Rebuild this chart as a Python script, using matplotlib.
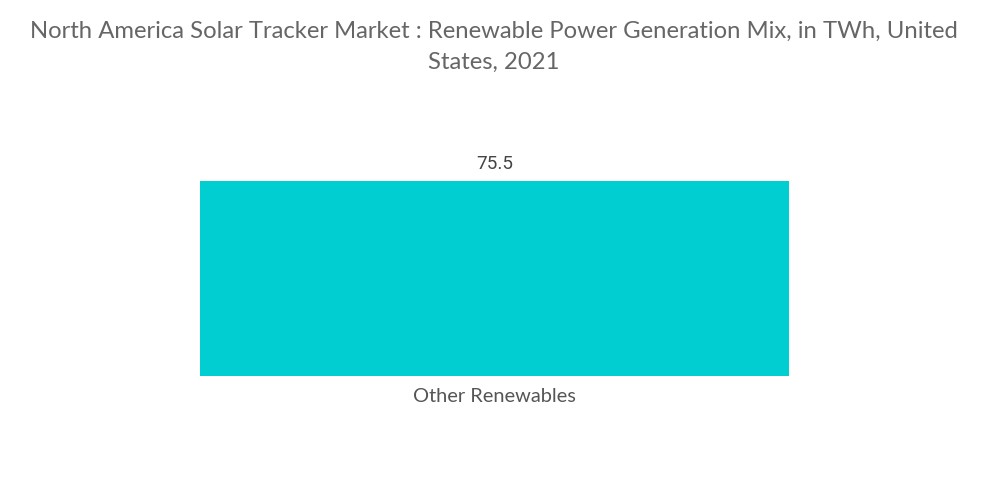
import matplotlib
matplotlib.use("Agg")
import matplotlib.pyplot as plt

categories = ["Other Renewables"]
values = [75.5]
title = "North America Solar Tracker Market : Renewable Power Generation Mix, in TWh, United\nStates, 2021"

fig = plt.figure(figsize=(10, 5.04), dpi=100)
fig.patch.set_facecolor("white")
ax = fig.add_axes([0.200, 1 - 376/504, 0.589, (376 - 181)/504])
ax.bar(range(len(categories)), values, width=1.0, color="#00CED1")
ax.set_xlim(-0.5, len(categories) - 0.5)
ax.set_ylim(0, max(values))
ax.axis("off")
for i, (c, v) in enumerate(zip(categories, values)):
    ax.annotate(f"{v}", (i, v), xytext=(0, 6), textcoords="offset points",
                ha="center", va="bottom", fontsize=13.6, family="Roboto",
                color="#444444", clip_on=False)
    ax.annotate(c, (i, 0), xytext=(0, -9), textcoords="offset points",
                ha="center", va="top", fontsize=14.4, family="Lato",
                color="#555555", clip_on=False)

fig.text(0.494, 0.958, title, ha="center", va="top", fontsize=17.2,
         family="Lato", color="#666666", linespacing=1.55)

fig.savefig("out.png", dpi=100, facecolor="white")
